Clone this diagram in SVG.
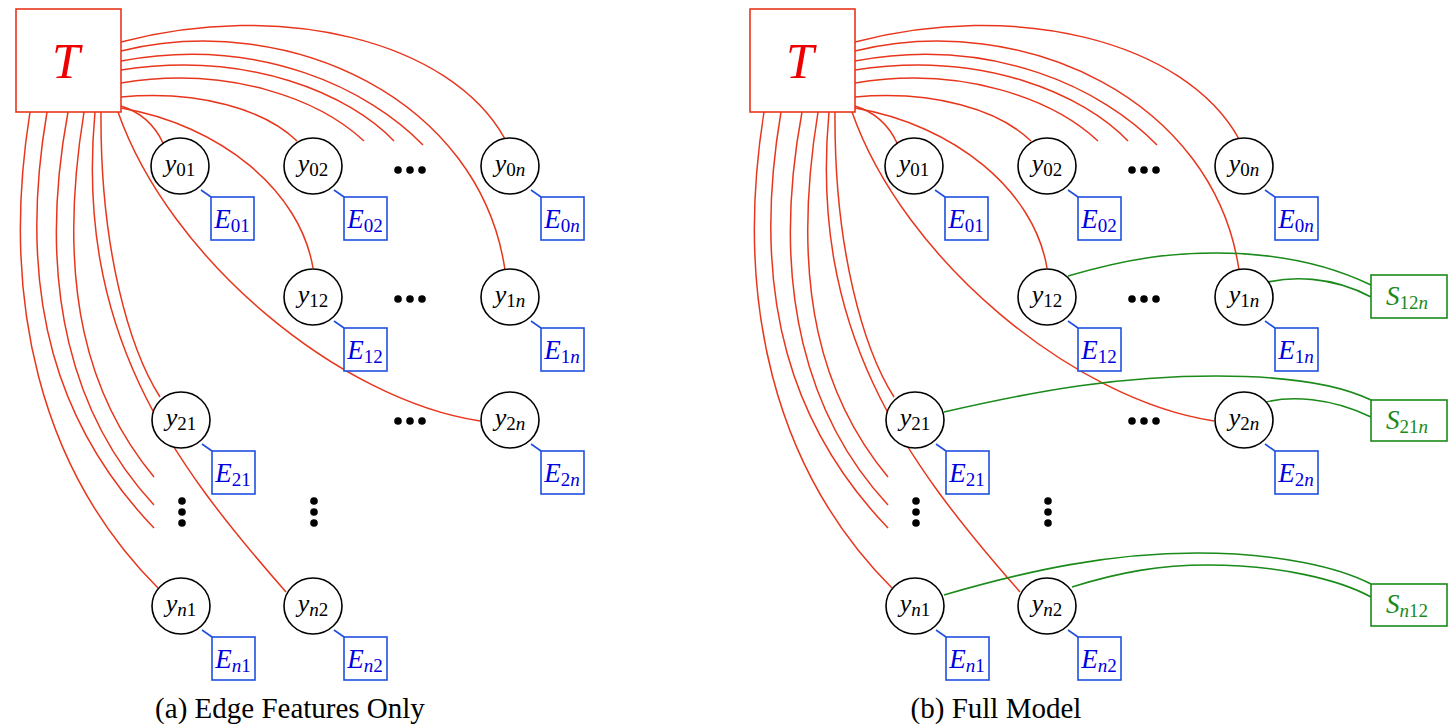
<svg xmlns="http://www.w3.org/2000/svg" width="1453" height="724" viewBox="0 0 1453 724">
<style>
.t{fill:#fff;stroke:#e8361c;stroke-width:1.6}
.tl{font:italic 50px "Liberation Serif",serif;fill:#e00;text-anchor:middle}
.c{fill:#fff;stroke:#000;stroke-width:1.6}
.yl{font:italic 26px "Liberation Serif",serif;text-anchor:middle;fill:#000}
.sub{font-style:normal;font-size:19px}
.e{fill:#fff;stroke:#1f4fe0;stroke-width:1.6}
.el{font:italic 27px "Liberation Serif",serif;fill:#0000e0;text-anchor:middle}
.el2{font:italic 27px "Liberation Serif",serif;fill:#1a8a1a;text-anchor:middle}
.s{fill:#fff;stroke:#1a8a1a;stroke-width:1.6}
.r{fill:none;stroke:#e8361c;stroke-width:1.5}
.g{fill:none;stroke:#1a8a1a;stroke-width:1.6}
.b{stroke:#1f4fe0;stroke-width:1.6}
.d{fill:#000}
.cap{font:29px "Liberation Serif",serif;text-anchor:middle;fill:#000}
</style>
<defs>
<g id="red">
<path class="r" d="M121,42 C280,0 450,40 505,139"/>
<path class="r" d="M121,51 C290,10 480,100 505,270"/>
<path class="r" d="M121,61 C260,35 370,90 423,145"/>
<path class="r" d="M121,70 C250,50 350,95 394,141"/>
<path class="r" d="M121,83 C230,65 320,100 364,141"/>
<path class="r" d="M121,97 C200,90 265,110 297,141"/>
<path class="r" d="M121,106 Q150,115 163,143"/>
<path class="r" d="M121,108 C220,125 300,190 313,268"/>
<path class="r" d="M118,112 C170,260 340,400 480,421"/>
<path class="r" d="M30,112 C0,300 40,470 158,588"/>
<path class="r" d="M47,112 C15,300 60,430 154,528"/>
<path class="r" d="M68,112 C35,290 75,420 154,505"/>
<path class="r" d="M84,112 C55,290 90,400 154,477"/>
<path class="r" d="M95,112 C75,330 170,460 286,592"/>
<path class="r" d="M101,112 C100,250 130,350 160,397"/>
</g>
<g id="dots">
<circle class="d" cx="398" cy="170" r="3.8"/><circle class="d" cx="410" cy="170" r="3.8"/><circle class="d" cx="422" cy="170" r="3.8"/>
<circle class="d" cx="398" cy="299" r="3.8"/><circle class="d" cx="410" cy="299" r="3.8"/><circle class="d" cx="422" cy="299" r="3.8"/>
<circle class="d" cx="398" cy="421" r="3.8"/><circle class="d" cx="410" cy="421" r="3.8"/><circle class="d" cx="422" cy="421" r="3.8"/>
<circle class="d" cx="182" cy="501" r="3.8"/><circle class="d" cx="182" cy="512" r="3.8"/><circle class="d" cx="182" cy="523" r="3.8"/>
<circle class="d" cx="314" cy="501" r="3.8"/><circle class="d" cx="314" cy="512" r="3.8"/><circle class="d" cx="314" cy="523" r="3.8"/>
</g>
<g id="blue">
<line class="b" x1="201" y1="190" x2="211" y2="197"/>
<line class="b" x1="334" y1="190" x2="344" y2="197"/>
<line class="b" x1="531" y1="190" x2="541" y2="197"/>
<line class="b" x1="334" y1="321" x2="344" y2="328"/>
<line class="b" x1="531" y1="321" x2="541" y2="328"/>
<line class="b" x1="202" y1="444" x2="212" y2="451"/>
<line class="b" x1="531" y1="444" x2="541" y2="451"/>
<line class="b" x1="202" y1="630" x2="212" y2="637"/>
<line class="b" x1="334" y1="630" x2="344" y2="637"/>
</g>
</defs>
<g id="connectors">
<use href="#red"/>
<use href="#red" transform="translate(734,0)"/>
<use href="#blue"/>
<use href="#blue" transform="translate(734,0)"/>
<path class="g" d="M1068,276 C1130,258 1170,253 1216,253 C1290,253 1340,270 1371,285"/>
<path class="g" d="M1268,282 C1290,277 1330,275 1371,297"/>
<path class="g" d="M944,412 C1040,390 1120,376 1216,376 C1290,376 1340,385 1371,400"/>
<path class="g" d="M1266,402 C1290,396 1330,397 1371,417"/>
<path class="g" d="M944,595 C1030,570 1110,553 1197,553 C1280,553 1340,568 1371,584"/>
<path class="g" d="M1072,587 C1120,572 1160,565 1208,565 C1280,565 1340,580 1371,597"/>
</g>
<use href="#dots"/>
<use href="#dots" transform="translate(734,0)"/>
<g id="panelA">
<g id="a-T"><rect class="t" x="16" y="9" width="105" height="103"/><text class="tl" x="66" y="78">T</text></g>
<g id="a-y01"><ellipse class="c" cx="180" cy="166" rx="29" ry="28"/><text class="yl" x="180" y="172">y<tspan class="sub" dy="4">01</tspan></text></g>
<g id="a-y02"><ellipse class="c" cx="313" cy="166" rx="29" ry="28"/><text class="yl" x="313" y="172">y<tspan class="sub" dy="4">02</tspan></text></g>
<g id="a-y0n"><ellipse class="c" cx="510" cy="166" rx="29" ry="28"/><text class="yl" x="510" y="172">y<tspan class="sub" dy="4">0<tspan font-style="italic">n</tspan></tspan></text></g>
<g id="a-y12"><ellipse class="c" cx="313" cy="297" rx="29" ry="28"/><text class="yl" x="313" y="303">y<tspan class="sub" dy="4">12</tspan></text></g>
<g id="a-y1n"><ellipse class="c" cx="510" cy="297" rx="29" ry="28"/><text class="yl" x="510" y="303">y<tspan class="sub" dy="4">1<tspan font-style="italic">n</tspan></tspan></text></g>
<g id="a-y21"><ellipse class="c" cx="181" cy="420" rx="29" ry="28"/><text class="yl" x="181" y="426">y<tspan class="sub" dy="4">21</tspan></text></g>
<g id="a-y2n"><ellipse class="c" cx="510" cy="420" rx="29" ry="28"/><text class="yl" x="510" y="426">y<tspan class="sub" dy="4">2<tspan font-style="italic">n</tspan></tspan></text></g>
<g id="a-yn1"><ellipse class="c" cx="181" cy="606" rx="29" ry="28"/><text class="yl" x="181" y="612">y<tspan class="sub" dy="4"><tspan font-style="italic">n</tspan>1</tspan></text></g>
<g id="a-yn2"><ellipse class="c" cx="313" cy="606" rx="29" ry="28"/><text class="yl" x="313" y="612">y<tspan class="sub" dy="4"><tspan font-style="italic">n</tspan>2</tspan></text></g>
<g id="a-E01"><rect class="e" x="211" y="197" width="43" height="43"/><text class="el" x="232" y="228">E<tspan class="sub" dy="4">01</tspan></text></g>
<g id="a-E02"><rect class="e" x="344" y="197" width="43" height="43"/><text class="el" x="365" y="228">E<tspan class="sub" dy="4">02</tspan></text></g>
<g id="a-E0n"><rect class="e" x="541" y="197" width="43" height="43"/><text class="el" x="562" y="228">E<tspan class="sub" dy="4">0<tspan font-style="italic">n</tspan></tspan></text></g>
<g id="a-E12"><rect class="e" x="344" y="328" width="43" height="43"/><text class="el" x="365" y="359">E<tspan class="sub" dy="4">12</tspan></text></g>
<g id="a-E1n"><rect class="e" x="541" y="328" width="43" height="43"/><text class="el" x="562" y="359">E<tspan class="sub" dy="4">1<tspan font-style="italic">n</tspan></tspan></text></g>
<g id="a-E21"><rect class="e" x="212" y="451" width="43" height="43"/><text class="el" x="233" y="482">E<tspan class="sub" dy="4">21</tspan></text></g>
<g id="a-E2n"><rect class="e" x="541" y="451" width="43" height="43"/><text class="el" x="562" y="482">E<tspan class="sub" dy="4">2<tspan font-style="italic">n</tspan></tspan></text></g>
<g id="a-En1"><rect class="e" x="212" y="637" width="43" height="43"/><text class="el" x="233" y="668">E<tspan class="sub" dy="4"><tspan font-style="italic">n</tspan>1</tspan></text></g>
<g id="a-En2"><rect class="e" x="344" y="637" width="43" height="43"/><text class="el" x="365" y="668">E<tspan class="sub" dy="4"><tspan font-style="italic">n</tspan>2</tspan></text></g>
<text class="cap" x="290" y="718">(a) Edge Features Only</text>
</g>
<g id="panelB" transform="translate(734,0)">
<g id="b-T"><rect class="t" x="16" y="9" width="105" height="103"/><text class="tl" x="66" y="78">T</text></g>
<g id="b-y01"><ellipse class="c" cx="180" cy="166" rx="29" ry="28"/><text class="yl" x="180" y="172">y<tspan class="sub" dy="4">01</tspan></text></g>
<g id="b-y02"><ellipse class="c" cx="313" cy="166" rx="29" ry="28"/><text class="yl" x="313" y="172">y<tspan class="sub" dy="4">02</tspan></text></g>
<g id="b-y0n"><ellipse class="c" cx="510" cy="166" rx="29" ry="28"/><text class="yl" x="510" y="172">y<tspan class="sub" dy="4">0<tspan font-style="italic">n</tspan></tspan></text></g>
<g id="b-y12"><ellipse class="c" cx="313" cy="297" rx="29" ry="28"/><text class="yl" x="313" y="303">y<tspan class="sub" dy="4">12</tspan></text></g>
<g id="b-y1n"><ellipse class="c" cx="510" cy="297" rx="29" ry="28"/><text class="yl" x="510" y="303">y<tspan class="sub" dy="4">1<tspan font-style="italic">n</tspan></tspan></text></g>
<g id="b-y21"><ellipse class="c" cx="181" cy="420" rx="29" ry="28"/><text class="yl" x="181" y="426">y<tspan class="sub" dy="4">21</tspan></text></g>
<g id="b-y2n"><ellipse class="c" cx="510" cy="420" rx="29" ry="28"/><text class="yl" x="510" y="426">y<tspan class="sub" dy="4">2<tspan font-style="italic">n</tspan></tspan></text></g>
<g id="b-yn1"><ellipse class="c" cx="181" cy="606" rx="29" ry="28"/><text class="yl" x="181" y="612">y<tspan class="sub" dy="4"><tspan font-style="italic">n</tspan>1</tspan></text></g>
<g id="b-yn2"><ellipse class="c" cx="313" cy="606" rx="29" ry="28"/><text class="yl" x="313" y="612">y<tspan class="sub" dy="4"><tspan font-style="italic">n</tspan>2</tspan></text></g>
<g id="b-E01"><rect class="e" x="211" y="197" width="43" height="43"/><text class="el" x="232" y="228">E<tspan class="sub" dy="4">01</tspan></text></g>
<g id="b-E02"><rect class="e" x="344" y="197" width="43" height="43"/><text class="el" x="365" y="228">E<tspan class="sub" dy="4">02</tspan></text></g>
<g id="b-E0n"><rect class="e" x="541" y="197" width="43" height="43"/><text class="el" x="562" y="228">E<tspan class="sub" dy="4">0<tspan font-style="italic">n</tspan></tspan></text></g>
<g id="b-E12"><rect class="e" x="344" y="328" width="43" height="43"/><text class="el" x="365" y="359">E<tspan class="sub" dy="4">12</tspan></text></g>
<g id="b-E1n"><rect class="e" x="541" y="328" width="43" height="43"/><text class="el" x="562" y="359">E<tspan class="sub" dy="4">1<tspan font-style="italic">n</tspan></tspan></text></g>
<g id="b-E21"><rect class="e" x="212" y="451" width="43" height="43"/><text class="el" x="233" y="482">E<tspan class="sub" dy="4">21</tspan></text></g>
<g id="b-E2n"><rect class="e" x="541" y="451" width="43" height="43"/><text class="el" x="562" y="482">E<tspan class="sub" dy="4">2<tspan font-style="italic">n</tspan></tspan></text></g>
<g id="b-En1"><rect class="e" x="212" y="637" width="43" height="43"/><text class="el" x="233" y="668">E<tspan class="sub" dy="4"><tspan font-style="italic">n</tspan>1</tspan></text></g>
<g id="b-En2"><rect class="e" x="344" y="637" width="43" height="43"/><text class="el" x="365" y="668">E<tspan class="sub" dy="4"><tspan font-style="italic">n</tspan>2</tspan></text></g>
<text class="cap" x="262" y="718">(b) Full Model</text>
</g>
<g id="b-S12n"><rect class="s" x="1371" y="275" width="76" height="43"/><text class="el2" x="1407" y="305">S<tspan class="sub" dy="4">12<tspan font-style="italic">n</tspan></tspan></text></g>
<g id="b-S21n"><rect class="s" x="1371" y="400" width="76" height="41"/><text class="el2" x="1407" y="429">S<tspan class="sub" dy="4">21<tspan font-style="italic">n</tspan></tspan></text></g>
<g id="b-Sn12"><rect class="s" x="1371" y="584" width="76" height="42"/><text class="el2" x="1407" y="613">S<tspan class="sub" dy="4"><tspan font-style="italic">n</tspan>12</tspan></text></g>
</svg>
